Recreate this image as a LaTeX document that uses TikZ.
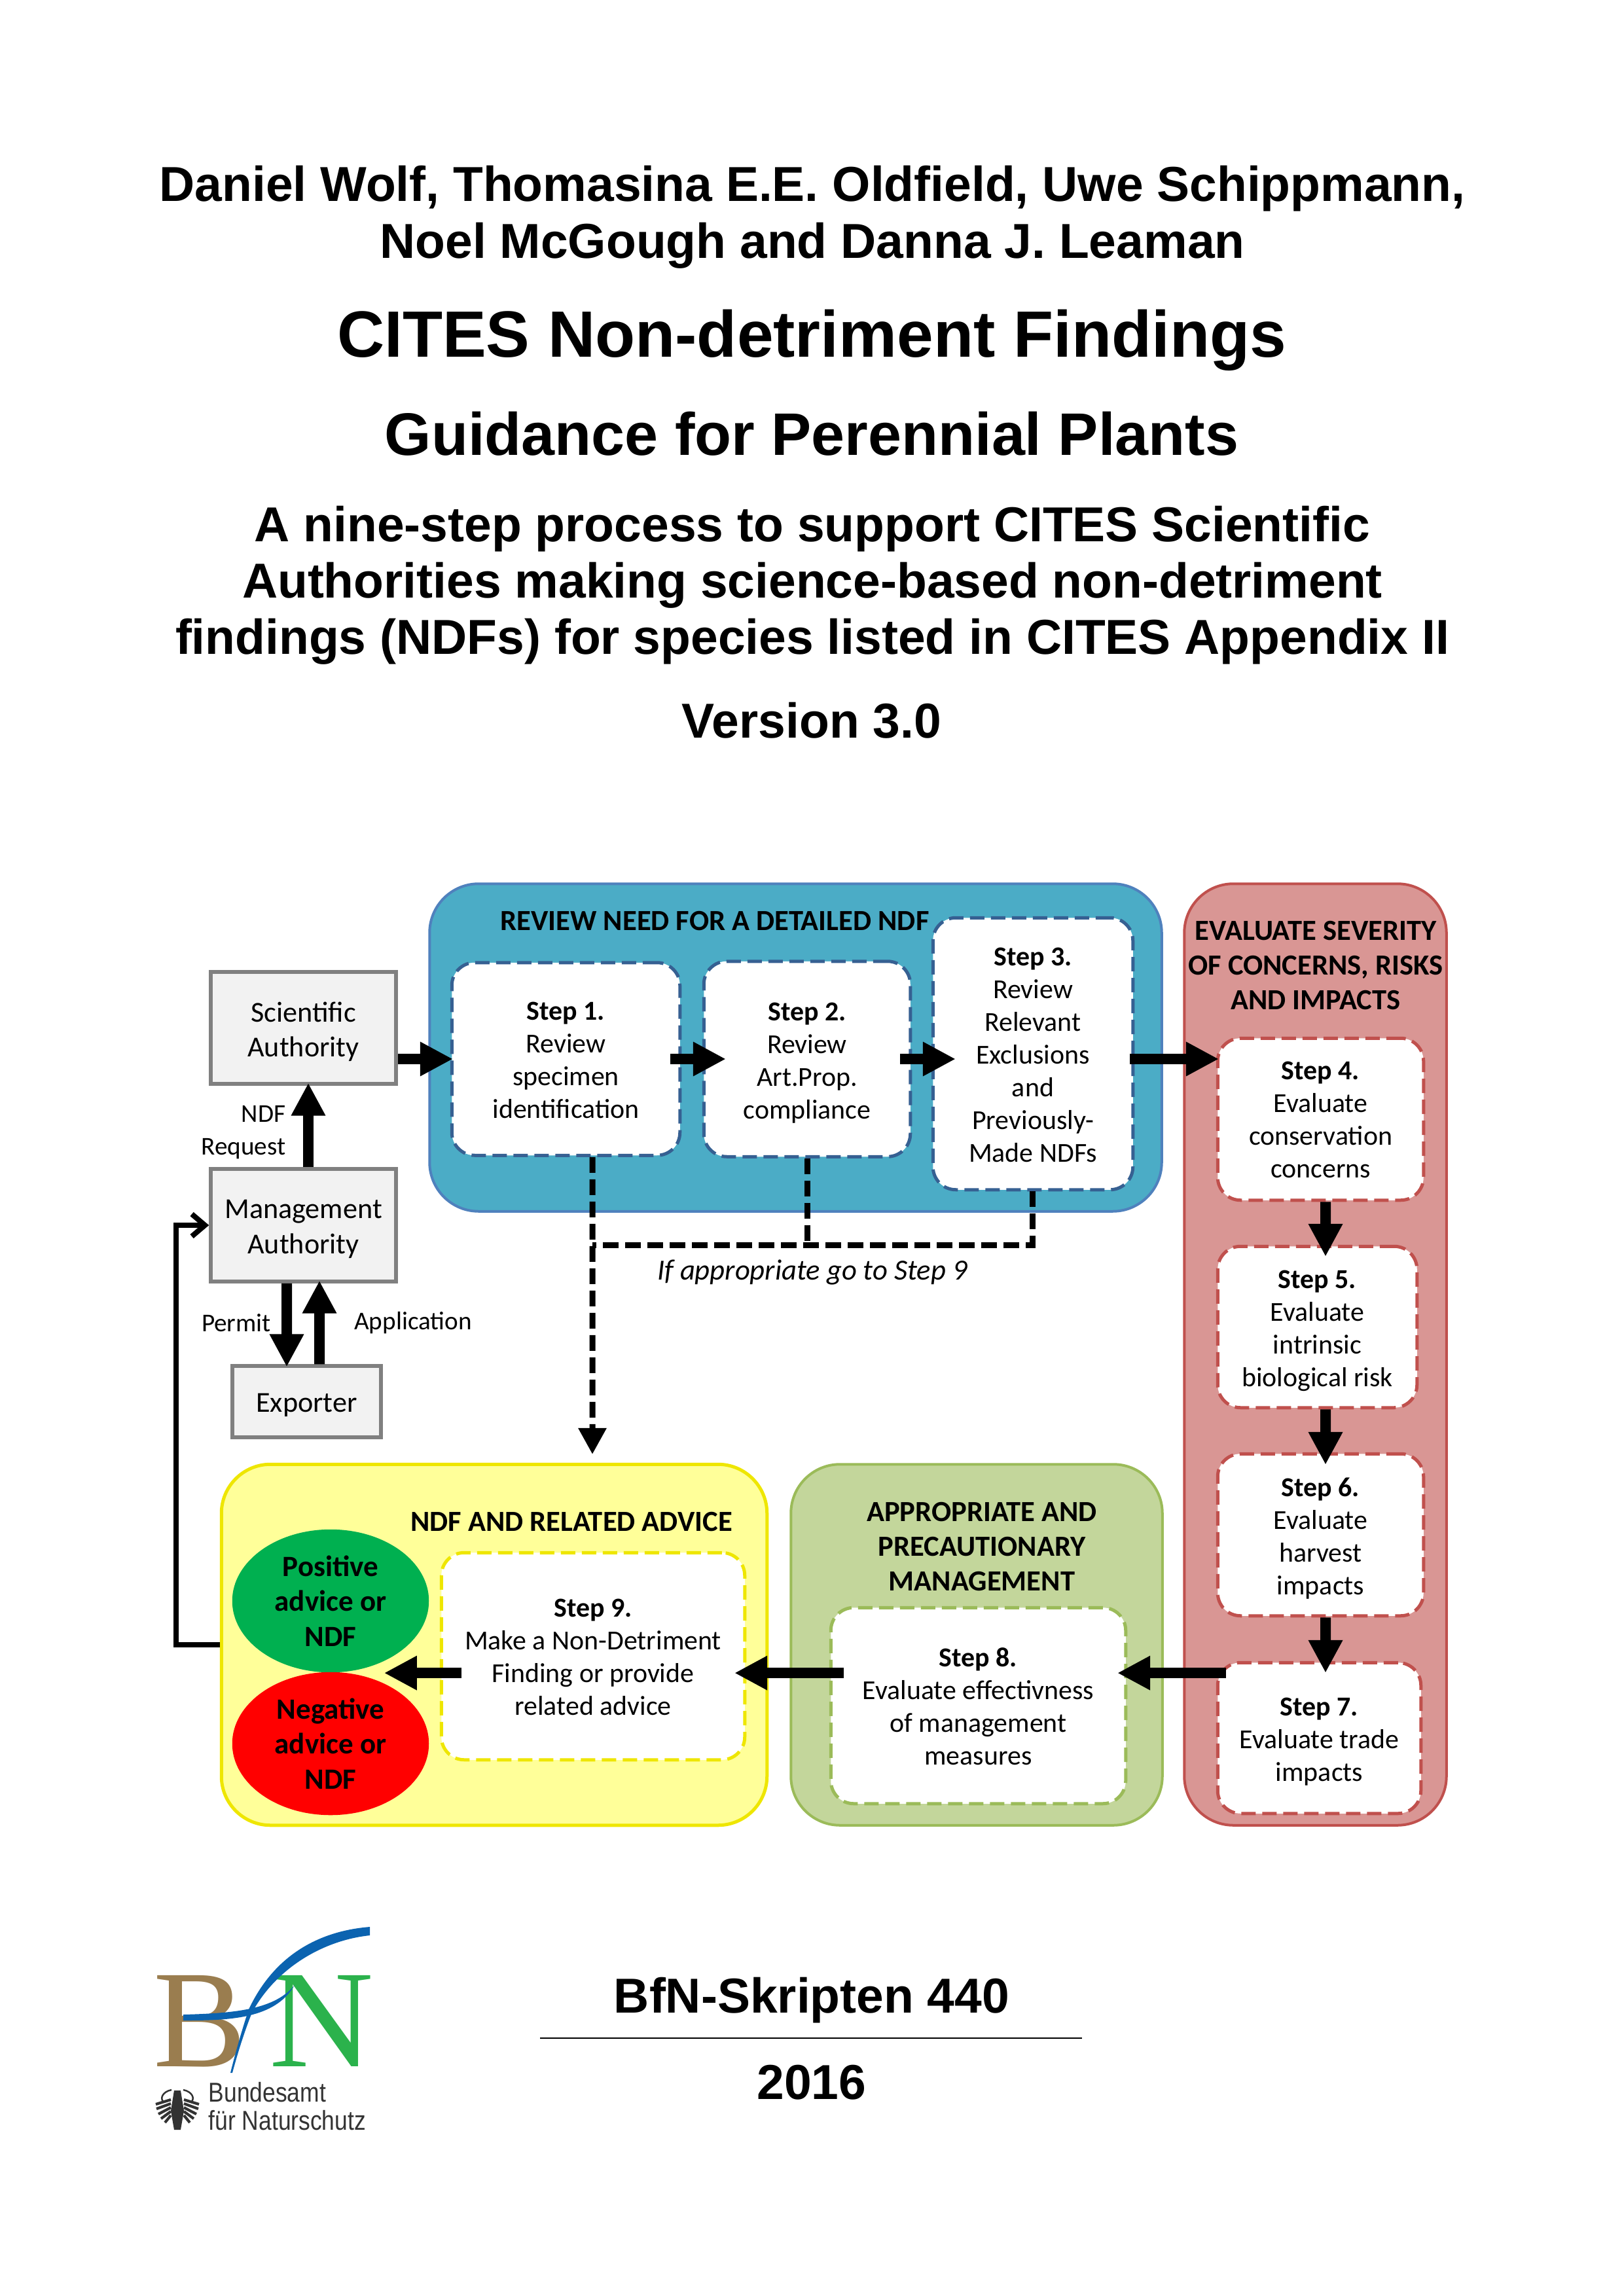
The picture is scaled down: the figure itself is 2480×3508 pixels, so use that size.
\documentclass[tikz,border=0pt]{standalone}
\usepackage{fontspec}
\setmainfont{Liberation Sans}
\newfontfamily\carlito{Carlito}
\newfontfamily\logofont[FakeStretch=0.85]{Liberation Sans}
\newfontfamily\logoserif{Liberation Serif}
\newfontfamily\logoserifwide[FakeStretch=1.04]{Liberation Serif}
\usepackage{tikz}
\usetikzlibrary{arrows.meta,positioning,shapes.geometric}
\pgfdeclarelayer{edgelayer}
\pgfdeclarelayer{nodelayer}
\pgfsetlayers{nodelayer,main,edgelayer}
\def\pxu{.24pt}
\newcommand{\steptitle}[2]{\rule{0pt}{#1pt}\textbf{#2}\\}
\definecolor{reviewfill}{HTML}{4BACC6}
\definecolor{reviewedge}{HTML}{4F81BD}
\definecolor{reviewdash}{HTML}{366092}
\definecolor{severityfill}{HTML}{D99694}
\definecolor{severityedge}{HTML}{C0504D}
\definecolor{managefill}{HTML}{C3D69B}
\definecolor{manageedge}{HTML}{9BBB59}
\definecolor{advicefill}{HTML}{FFFF99}
\definecolor{adviceedge}{HTML}{EEE600}
\definecolor{posfill}{HTML}{00B050}
\definecolor{logobrown}{HTML}{9A7D4F}
\definecolor{logogreen}{HTML}{2BB24C}
\definecolor{logoblue}{HTML}{0B63B0}
\definecolor{logogrey}{HTML}{333333}
\tikzset{
	sz/.style 2 args={minimum width=(#1-2.5)*\pxu, minimum height=(#2-2.5)*\pxu, inner sep=0pt},
	titlefont/.style 2 args={font=\bfseries\fontsize{#1}{#2}\selectfont, align=center},
	areabox/.style={rectangle, rounded corners=18pt, line width=.96pt},
	stepbox/.style={rectangle, rounded corners=8.4pt, fill=white, line width=1.2pt, dash pattern=on 5.28pt off 2.4pt, align=center, font=\carlito\fontsize{10.05}{12}\selectfont},
	actorbox/.style={rectangle, fill=black!5, draw=black!50, line width=1.44pt, align=center, font=\carlito\fontsize{10.6}{12.8}\selectfont},
	areatitle/.style={align=center, font=\carlito\bfseries\fontsize{10.7}{12.8}\selectfont},
	plainlabel/.style={align=right, font=\carlito\fontsize{9.4}{12}\selectfont},
	advice/.style={ellipse, sz={303}{221}, align=center, font=\carlito\bfseries\fontsize{10.8}{12.8}\selectfont},
	bigarrow/.style={line width=3.84pt, shorten >=-1pt, -{Triangle[length=12pt, width=11.76pt]}},
	dashline/.style={line width=2.16pt, dash pattern=on 5.76pt off 2.4pt},
	retline/.style={line width=1.92pt, -{Straight Barb[length=4.8pt, width=8.16pt]}}
}
\begin{document}
\begin{tikzpicture}[x=.24pt, y=-.24pt]
	\useasboundingbox (0, 0) rectangle (2480, 3508);
	\begin{pgfonlayer}{nodelayer}
		\node [titlefont={18}{21}] (authors) at (1241, 332) {Daniel Wolf, Thomasina E.E. Oldfield, Uwe Schippmann,\\Noel McGough and Danna J. Leaman};
		\node [titlefont={24}{28}] (cites) at (1240, 520) {CITES Non-detriment Findings};
		\node [titlefont={22}{26}] (guidance) at (1240, 663) {Guidance for Perennial Plants};
		\node [titlefont={18}{20.6}] (process) at (1241, 894) {A nine-step process to support CITES Scientific\\Authorities making science-based non-detriment\\findings (NDFs) for species listed in CITES Appendix II};
		\node [titlefont={18}{21}] (version) at (1240, 1101) {Version 3.0};

		\node [areabox, sz={1121}{503}, fill=reviewfill, draw=reviewedge] (reviewbox) at (1215.5, 1600.5) {};
		\node [areabox, sz={403}{1441}, fill=severityfill, draw=severityedge] (severitybox) at (2009.5, 2069.5) {};
		\node [areabox, sz={570}{554}, fill=managefill, draw=manageedge] (managebox) at (1492, 2513) {};
		\node [areabox, sz={836}{554}, fill=advicefill, draw=adviceedge, line width=1.2pt] (ndfbox) at (755, 2513) {};

		\node [areatitle] (reviewtitle) at (1092, 1407) {REVIEW NEED FOR A DETAILED NDF};
		\node [areatitle] (severitytitle) at (2010, 1475) {EVALUATE SEVERITY\\OF CONCERNS, RISKS\\AND IMPACTS};
		\node [areatitle] (managetitle) at (1500, 2363) {APPROPRIATE AND\\PRECAUTIONARY\\MANAGEMENT};
		\node [areatitle] (ndftitle) at (873, 2325) {NDF AND RELATED ADVICE};

		\node [actorbox, sz={285}{173}] (sa) at (463.5, 1570.5) {\rule{0pt}{10pt}Scientific\\Authority};
		\node [actorbox, sz={285}{174}] (ma) at (463.5, 1872) {\rule{0pt}{9.6pt}Management\\Authority};
		\node [actorbox, sz={229}{111}] (exporter) at (468.5, 2141.5) {\rule{0pt}{9.6pt}Exporter};
		\node [plainlabel] (request) at (372, 1730) {NDF\\Request};
		\node [plainlabel] (permit) at (361, 2021) {Permit};
		\node [plainlabel] (application) at (631, 2021) {Application};
		\node [plainlabel, font=\carlito\itshape\fontsize{10.7}{12}\selectfont] (goto) at (1241, 1944) {If appropriate go to Step 9};

		\node [stepbox, sz={351}{297}, draw=reviewdash] (step1) at (864.5, 1618) {\steptitle{7.4}{Step 1.}Review\\specimen\\identification};
		\node [stepbox, sz={318}{301}, draw=reviewdash] (step2) at (1233, 1618) {\steptitle{9.5}{Step 2.}Review\\Art.Prop.\\compliance};
		\node [stepbox, sz={308}{418}, draw=reviewdash] (step3) at (1578, 1610) {\steptitle{7.4}{Step 3.}Review\\Relevant\\Exclusions\\and\\Previously-\\Made NDFs};
		\node [stepbox, sz={317}{250}, draw=severityedge] (step4) at (2017.5, 1710) {\steptitle{7}{Step 4.}Evaluate\\conservation\\concerns};
		\node [stepbox, sz={307}{249}, draw=severityedge] (step5) at (2012.5, 2027.5) {\steptitle{9.5}{Step 5.}Evaluate\\intrinsic\\biological risk};
		\node [stepbox, sz={317}{250}, draw=severityedge] (step6) at (2017.5, 2345) {\steptitle{9.5}{Step 6.}Evaluate\\harvest\\impacts};
		\node [stepbox, sz={313}{233}, draw=severityedge] (step7) at (2015.5, 2655.5) {\steptitle{9.5}{Step 7.}Evaluate trade\\impacts};
		\node [stepbox, sz={453}{302}, draw=manageedge] (step8) at (1494.5, 2606) {\steptitle{7.6}{Step 8.}Evaluate effectivness\\of management\\measures};
		\node [stepbox, sz={466}{319}, draw=adviceedge] (step9) at (906, 2530.5) {\steptitle{7.4}{Step 9.}Make a Non-Detriment\\Finding or provide\\related advice};

		\node [advice, fill=posfill] (positive) at (505, 2446) {Positive\\advice or\\NDF};
		\node [advice, fill=red] (negative) at (505, 2664) {Negative\\advice or\\NDF};

		\node [titlefont={18}{21}] (skripten) at (1240, 3056) {BfN-Skripten 440};
		\node [titlefont={18}{21}] (year) at (1240, 3182) {2016};
		\coordinate (ruleleft) at (825, 3114);
		\coordinate (ruleright) at (1653, 3114);

		\node [anchor=base west, inner sep=0pt, text=logobrown, font=\logoserif\fontsize{51}{51}\selectfont] (logob) at (234, 3157) {B};
		\node [anchor=base west, inner sep=0pt, text=logogreen, font=\logoserifwide\fontsize{51}{51}\selectfont] (logon) at (411, 3157) {N};
		\node [anchor=west, inner sep=0pt, text=logogrey, font=\logofont\fontsize{10}{10}\selectfont] (bundesamt) at (318, 3197) {Bundesamt};
		\node [anchor=west, inner sep=0pt, text=logogrey, font=\logofont\fontsize{10}{10}\selectfont] (naturschutz) at (318, 3240) {für Naturschutz};
	\end{pgfonlayer}
	\fill [logoblue] (565, 2944) .. controls (490, 2950) and (420, 2985) .. (380, 3070) .. controls (370, 3100) and (360, 3135) .. (352, 3167) -- (355, 3167) .. controls (365, 3130) and (375, 3100) .. (385, 3075) .. controls (420, 3010) and (490, 2965) .. (565, 2957) -- cycle;
	\fill [logoblue] (280, 3078) -- (280, 3087) .. controls (350, 3087) and (420, 3085) .. (450, 3033) .. controls (420, 3070) and (360, 3076) .. (280, 3078) -- cycle;
	\fill [logogrey] (266, 3194) -- (276, 3194) -- (281, 3225) -- (276, 3254) -- (266, 3254) -- (261, 3225) -- cycle;
	\draw [logogrey, line width=.6pt] (262, 3193) .. controls (248, 3196) and (244, 3206) .. (250, 3212);
	\draw [logogrey, line width=.6pt] (280, 3193) .. controls (294, 3196) and (298, 3206) .. (292, 3212);
	\draw [logogrey, line width=1pt] (261, 3208) -- (238, 3215);
	\draw [logogrey, line width=1pt] (261, 3214) -- (239, 3222);
	\draw [logogrey, line width=1pt] (261, 3220) -- (242, 3230);
	\draw [logogrey, line width=1pt] (261, 3226) -- (246, 3237);
	\draw [logogrey, line width=1pt] (261, 3232) -- (252, 3243);
	\draw [logogrey, line width=1pt] (281, 3208) -- (304, 3215);
	\draw [logogrey, line width=1pt] (281, 3214) -- (303, 3222);
	\draw [logogrey, line width=1pt] (281, 3220) -- (300, 3230);
	\draw [logogrey, line width=1pt] (281, 3226) -- (296, 3237);
	\draw [logogrey, line width=1pt] (281, 3232) -- (290, 3243);
	\draw [line width=.5pt] (ruleleft) -- (ruleright);
	\begin{pgfonlayer}{edgelayer}
		\draw [bigarrow] (sa.east |- step1.west) to (step1.west);
		\draw [bigarrow] ([xshift=-4.08pt]step1.east) to ([xshift=7.68pt]step2.west);
		\draw [bigarrow] ([xshift=-4.32pt]step2.east) to ([xshift=7.92pt]step3.west |- step2.east);
		\draw [bigarrow] ([xshift=-1.68pt]step3.east |- step2.east) to (step4.west |- step2.east);
		\draw [bigarrow] ([xshift=1.8pt]step4.south) to ([xshift=3pt, yshift=-3.36pt]step5.north);
		\draw [bigarrow] ([xshift=3pt]step5.south) to ([xshift=1.8pt, yshift=-3.6pt]step6.north);
		\draw [bigarrow] ([xshift=1.8pt]step6.south) to ([xshift=2.28pt, yshift=-3.36pt]step7.north);
		\draw [bigarrow] ([xshift=3.6pt]step7.west |- positive.south) to ([xshift=-2.64pt]step8.east |- positive.south);
		\draw [bigarrow] ([xshift=5.28pt]step8.west |- positive.south) to ([xshift=-3.36pt]step9.east |- positive.south);
		\draw [bigarrow] ([xshift=7.92pt]step9.west |- positive.south) to ([xshift=20.64pt]positive.south);
		\draw [bigarrow] ([xshift=1.8pt]ma.north) to ([xshift=1.8pt]sa.south);
		\draw [bigarrow] ([xshift=-6.12pt]ma.south) to ([xshift=-7.32pt]exporter.north);
		\draw [bigarrow] ([xshift=4.68pt]exporter.north) to ([xshift=5.88pt]ma.south);
		\coordinate (retcorner) at (269, 2513);
		\draw [retline] (ndfbox.west) to (retcorner) |- (ma.west);
		\coordinate (dashjoin) at (905, 1902);
		\draw [dashline] ([xshift=-.24pt]step3.south) |- (dashjoin);
		\draw [dashline] (step2.south) to (step2.south |- dashjoin);
		\draw [dashline, shorten >=-1pt, -{Triangle[length=9.6pt, width=9.84pt]}] ([xshift=9.72pt]step1.south) to ([xshift=36pt, yshift=4.08pt]ndfbox.north);
	\end{pgfonlayer}
\end{tikzpicture}
\end{document}
